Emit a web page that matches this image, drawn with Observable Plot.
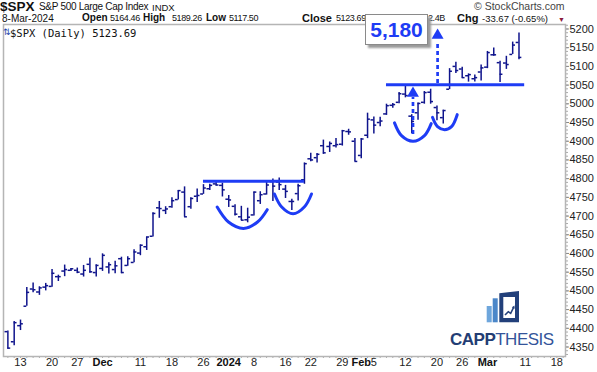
<!DOCTYPE html>
<html><head><meta charset="utf-8">
<script src="https://cdn.jsdelivr.net/npm/d3@7"></script>
<script src="https://cdn.jsdelivr.net/npm/@observablehq/plot@0.6"></script>
<style>
body{margin:0;background:#fff;font-family:"Liberation Sans",Arial,sans-serif;}
#wrap{position:relative;width:597px;height:372px;overflow:hidden;background:#fff;}
.a{position:absolute;white-space:nowrap;line-height:1;color:#111;}
.b{font-weight:bold;font-size:10px;}
.v{font-size:9px;letter-spacing:-0.4px;}
</style></head><body>
<div id="wrap">
  <div id="chart" style="position:absolute;left:0;top:0"></div>
  <div class="a" style="left:0;top:0;font-size:13.5px;font-weight:bold;">$SPX</div>
  <div class="a" style="left:39px;top:2px;font-size:10px;letter-spacing:-0.3px;">S&amp;P 500 Large Cap Index</div>
  <div class="a" style="left:152px;top:3px;font-size:9.5px;">INDX</div>
  <div class="a" style="left:474px;top:1px;font-size:10.5px;color:#444;">© StockCharts.com</div>
  <div class="a" style="left:2px;top:13.5px;font-size:10px;">8-Mar-2024</div>
  <div class="a b" style="left:82px;top:13px;">Open</div>
  <div class="a v" style="left:110px;top:14px;">5164.46</div>
  <div class="a b" style="left:143px;top:13px;">High</div>
  <div class="a v" style="left:172px;top:14px;">5189.26</div>
  <div class="a b" style="left:206px;top:13px;">Low</div>
  <div class="a v" style="left:229px;top:14px;">5117.50</div>
  <div class="a b" style="left:302px;top:13px;font-size:11px;">Close</div>
  <div class="a v" style="left:336px;top:14px;">5123.69</div>
  <div class="a v" style="left:428px;top:14px;">2.4B</div>
  <div class="a b" style="left:457px;top:13px;font-size:11px;">Chg</div>
  <div class="a v" style="left:482px;top:14px;letter-spacing:0;font-size:9.5px;">-33.67 (-0.65%)</div>
  <div class="a" style="left:558px;top:15.5px;font-size:7px;color:#8b1a3c;">▼</div>
  <div class="a" style="left:3px;top:28px;font-size:9px;color:#2244aa;font-family:'DejaVu Sans';">⇅</div>
  <div class="a" style="left:10px;top:28px;font-size:10.5px;font-family:'DejaVu Sans Mono';">$SPX (Daily) 5123.69</div>
  <div class="a" style="left:365px;top:14px;width:61px;height:29px;background:#fff;border:1px solid #8a8a8a;box-shadow:3px 3px 2px #9a9a9a;"></div>
  <div class="a" style="left:365px;top:19px;width:63px;text-align:center;font-size:21px;font-weight:bold;color:#1e3cf5;">5,180</div>
  <svg style="position:absolute;left:480px;top:288px" width="45" height="36">
    <rect x="6.7" y="18" width="5" height="16.3" fill="#6ea6dc"/>
    <rect x="12.7" y="10.3" width="5" height="24" fill="#4b87c9"/>
    <path d="M19.3 5.3 L39 3 L39 34.3 L19.3 34.3 Z" fill="#22407a"/>
    <rect x="23.3" y="9" width="11.7" height="21" fill="#fff"/>
    <polyline points="25,27 28.3,23.7 30.7,25.3 33.8,19" fill="none" stroke="#22407a" stroke-width="1.6"/>
    <path d="M31.8 19.3 L34.5 17.5 L34.5 21 Z" fill="#22407a"/>
  </svg>
  <div class="a" style="left:450px;top:331px;font-size:17px;letter-spacing:-0.5px;"><span style="font-weight:bold;color:#233d74;">CAPP</span><span style="color:#34549a;">THESIS</span></div>
</div>
<script>
// Trading days shown (bars)
const dates = [
 "2023-11-09","2023-11-10","2023-11-13","2023-11-14","2023-11-15","2023-11-16","2023-11-17","2023-11-20","2023-11-21","2023-11-22","2023-11-24","2023-11-27","2023-11-28","2023-11-29","2023-11-30",
 "2023-12-01","2023-12-04","2023-12-05","2023-12-06","2023-12-07","2023-12-08","2023-12-11","2023-12-12","2023-12-13","2023-12-14","2023-12-15","2023-12-18","2023-12-19","2023-12-20","2023-12-21","2023-12-22","2023-12-26","2023-12-27","2023-12-28","2023-12-29",
 "2024-01-02","2024-01-03","2024-01-04","2024-01-05","2024-01-08","2024-01-09","2024-01-10","2024-01-11","2024-01-12","2024-01-16","2024-01-17","2024-01-18","2024-01-19","2024-01-22","2024-01-23","2024-01-24","2024-01-25","2024-01-26","2024-01-29","2024-01-30","2024-01-31",
 "2024-02-01","2024-02-02","2024-02-05","2024-02-06","2024-02-07","2024-02-08","2024-02-09","2024-02-12","2024-02-13","2024-02-14","2024-02-15","2024-02-16","2024-02-20","2024-02-21","2024-02-22","2024-02-23","2024-02-26","2024-02-27","2024-02-28","2024-02-29",
 "2024-03-01","2024-03-04","2024-03-05","2024-03-06","2024-03-07","2024-03-08"
];
const futureDates = ["2024-03-11","2024-03-12","2024-03-13","2024-03-14","2024-03-15","2024-03-18","2024-03-19"];
const open = [4391,4364,4407,4459,4505,4497,4510,4512,4538,4553,4555,4555,4545,4571,4549,
 4560,4564,4557,4586,4568,4576,4601,4618,4646,4722,4715,4725,4744,4764,4725,4753,4759,4773,4786,4782,
 4745,4726,4698,4690,4703,4741,4759,4792,4791,4772,4739,4760,4797,4853,4856,4888,4886,4888,4892,4926,4900,
 4862,4916,4957,4950,4973,4996,5004,5026,4967,4976,5004,5031,4990,4963,5039,5100,5093,5075,5067,5085,
 5098,5131,5110,5109,5132,5164];
const high = [4393,4418,4422,4509,4521,4511,4520,4557,4542,4569,4560,4561,4568,4587,4570,
 4599,4575,4579,4590,4591,4610,4623,4644,4709,4739,4725,4749,4768,4778,4749,4772,4784,4785,4794,4788,
 4755,4730,4726,4721,4764,4765,4791,4799,4802,4782,4745,4785,4842,4868,4867,4903,4898,4907,4929,4932,4907,
 4907,4975,4965,4964,4999,5001,5030,5048,4971,5002,5033,5039,4994,4983,5094,5111,5098,5080,5077,5104,
 5140,5149,5114,5127,5165,5189];
const low = [4344,4353,4394,4459,4495,4488,4500,4510,4525,4538,4552,4546,4537,4547,4537,
 4552,4545,4546,4546,4566,4575,4594,4608,4644,4694,4704,4721,4743,4697,4718,4736,4758,4768,4780,4751,
 4723,4700,4688,4682,4700,4731,4756,4739,4768,4747,4715,4740,4785,4845,4842,4865,4870,4882,4887,4916,4845,
 4853,4907,4919,4939,4969,4988,5000,5016,4920,4956,4999,4999,4955,4946,5038,5081,5068,5058,5058,5061,
 5094,5127,5057,5092,5132,5118];
const close = [4347,4415,4412,4496,4503,4508,4514,4547,4538,4557,4559,4550,4555,4551,4568,
 4595,4570,4567,4549,4586,4604,4622,4644,4707,4720,4719,4741,4768,4698,4747,4755,4775,4782,4783,4770,
 4743,4705,4689,4697,4764,4757,4783,4780,4784,4766,4739,4781,4840,4850,4865,4869,4894,4891,4928,4925,4846,
 4906,4959,4943,4954,4995,4998,5027,5022,4953,5001,5030,5006,4976,4982,5087,5089,5070,5078,5070,5096,
 5137,5131,5079,5105,5157,5124];

const tickDates = ["2023-11-13","2023-11-20","2023-11-27","2023-12-01","2023-12-11","2023-12-18","2023-12-26","2024-01-02","2024-01-08","2024-01-16","2024-01-22","2024-01-29","2024-02-01","2024-02-05","2024-02-12","2024-02-20","2024-02-26","2024-03-01","2024-03-11","2024-03-18"];
const tickLabels = ["13","20","27","Dec","11","18","26","2024","8","16","22","29","Feb","5","12","20","26","Mar","11","18"];
const boldLabels = ["Dec","2024","Feb","Mar"];
const yTicks = [4350,4400,4450,4500,4550,4600,4650,4700,4750,4800,4850,4900,4950,5000,5050,5100,5150,5200];

// Annotations (trading-day index, price)
const resistance = [{x1:31, x2:47, y:4793}, {x1:60, x2:81.9, y:5051}];
const arcs = [
 [[33.17,4724],[34.96,4684],[37.34,4667],[39.56,4684],[41.10,4717]],
 [[42.25,4759],[43.36,4725],[45.19,4706],[47.01,4725],[48.12,4759]],
 [[61.27,4949],[62.38,4915],[64.20,4900],[66.02,4915],[67.09,4947]],
 [[67.29,4964],[68.09,4939],[69.20,4931],[70.31,4939],[71.21,4971]]
];
const arrows = [{x:64.2, tip:5028, from:4918, to:5017}, {x:68.1, tip:5183, from:5054, to:5166}];

const allDays = dates.concat(futureDates);
const bars = dates.map((d,i)=>({i, o:open[i], h:high[i], l:low[i], c:close[i]}));
const ticks = tickDates.map((d,k)=>({i: allDays.indexOf(d), t: tickLabels[k], b: boldLabels.includes(tickLabels[k])}));
const arcPts = arcs.flatMap((a,k)=>a.map(([x,y])=>({k,x,y})));
const yMinor = d3.range(4330, 5211, 10);

const BAR = "#0f148c", ANN = "#1e3cf5", TL = 0.45;

const chart = Plot.plot({
  width: 597, height: 372,
  marginTop: 24, marginBottom: 16, marginLeft: 3, marginRight: 32,
  style: {background: "transparent", fontFamily: "Liberation Sans, Arial, sans-serif", color: "#222"},
  x: {type: "linear", domain: [-0.694, 88.37], label: null},
  y: {domain: [4324.6, 5212], label: null},
  marks: [
    Plot.axisY({ticks: yMinor, anchor: "right", tickSize: 2, tickFormat: () => "", stroke: "#aaa", label: null}),
    Plot.axisY({ticks: yTicks, anchor: "right", tickSize: 3, tickPadding: 1, fontSize: 11, stroke: "#888", fill: "#222", tickFormat: d => String(d), label: null}),
    Plot.axisX({ticks: d3.range(0, allDays.length), anchor: "bottom", tickSize: 2, tickFormat: () => "", stroke: "#aaa", label: null}),
    Plot.text(ticks.filter(d => !d.b), {x: "i", text: "t", frameAnchor: "bottom", dy: 9, fontSize: 11, fill: "#222"}),
    Plot.text(ticks.filter(d => d.b), {x: "i", text: "t", frameAnchor: "bottom", dy: 9, fontSize: 11, fontWeight: "bold", fill: "#111"}),
    Plot.frame({stroke: "#b5b5b5", strokeWidth: 1.5}),
    Plot.ruleX(bars, {x: "i", y1: "l", y2: "h", stroke: BAR, strokeWidth: 1.5}),
    Plot.ruleY(bars, {y: "o", x1: d => d.i - TL, x2: "i", stroke: BAR, strokeWidth: 1.5}),
    Plot.ruleY(bars, {y: "c", x1: "i", x2: d => d.i + TL, stroke: BAR, strokeWidth: 1.5}),
    Plot.ruleY(resistance, {x1: "x1", x2: "x2", y: "y", stroke: ANN, strokeWidth: 3}),
    Plot.line(arcPts, {x: "x", y: "y", z: "k", curve: "catmull-rom", stroke: ANN, strokeWidth: 3}),
    Plot.ruleX(arrows, {x: "x", y1: "from", y2: "to", stroke: ANN, strokeWidth: 2.7, strokeDasharray: "4,3"}),
    Plot.dot(arrows, {x: "x", y: "tip", symbol: "triangle", r: 4.45, fill: ANN})
  ]
});
document.getElementById("chart").appendChild(chart);
</script>
</body></html>
